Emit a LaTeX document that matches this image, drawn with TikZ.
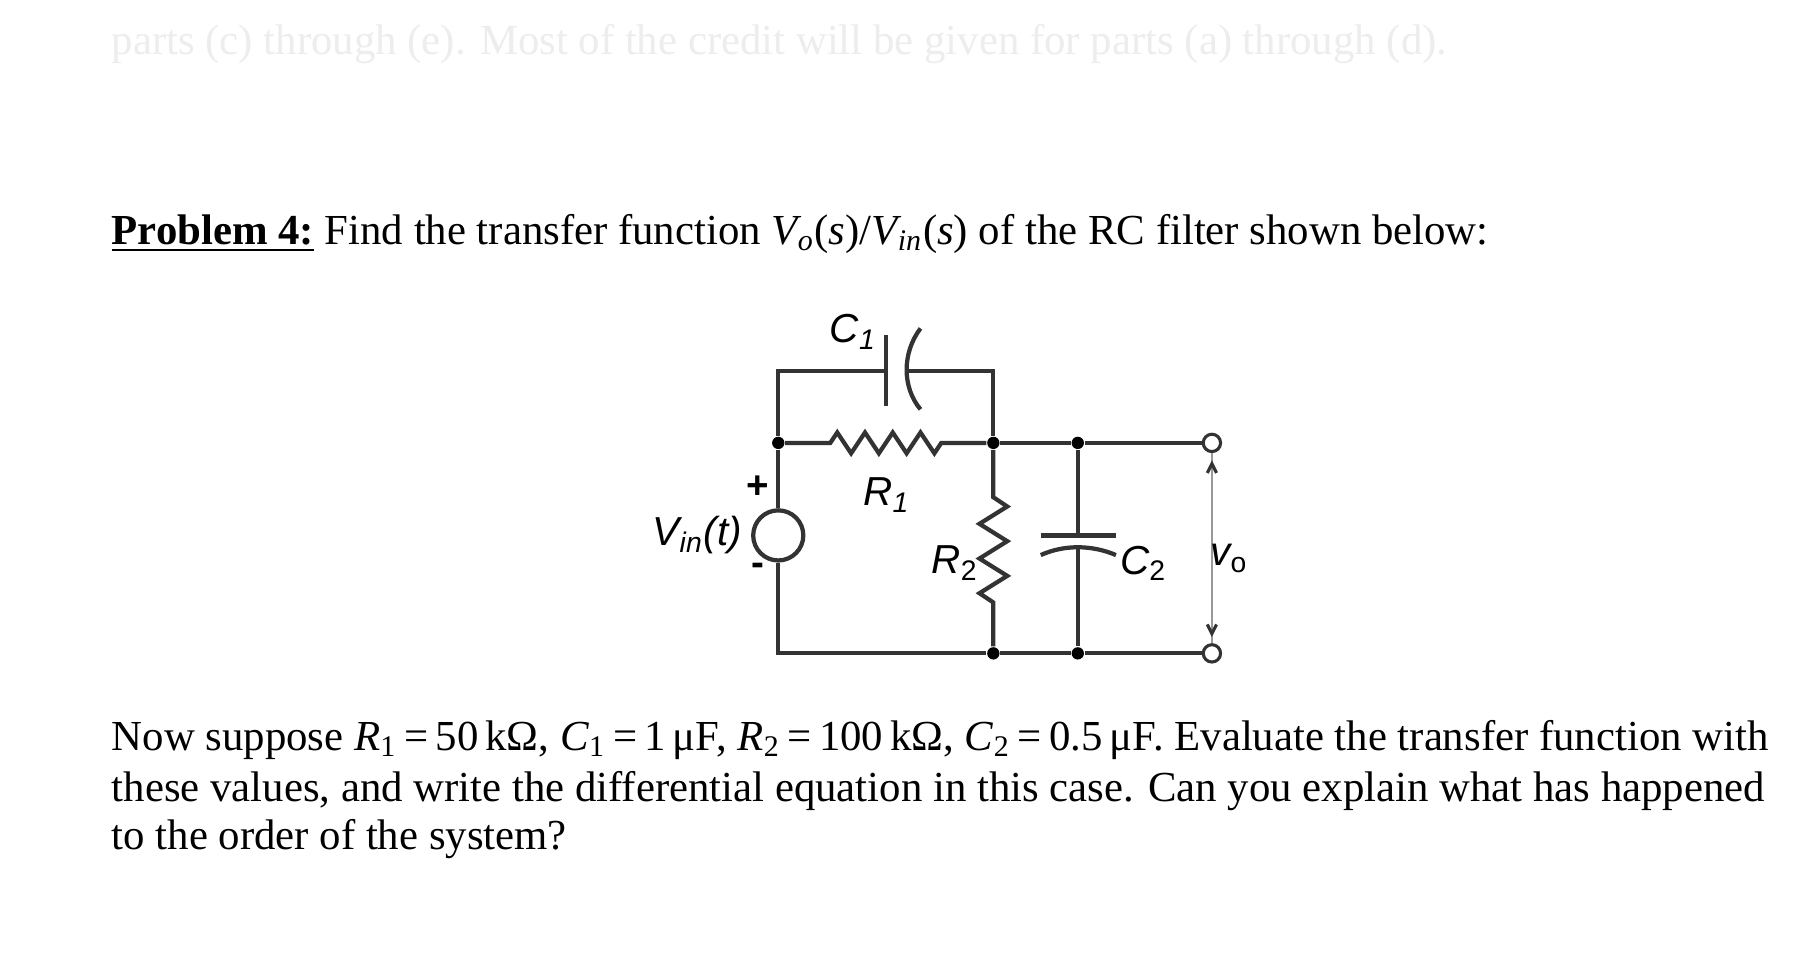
\documentclass[tikz,border=0pt]{standalone}
\usepackage{fontspec}
\setmainfont{Liberation Serif}
\setsansfont{Liberation Sans}
\usetikzlibrary{arrows.meta}
\begin{document}
\begin{tikzpicture}[x=0.3pt,y=-0.3pt,
  wire/.style={line width=1.1pt,black!80},
  dotn/.style={circle,fill=black,inner sep=0pt,minimum size=3.2pt},
  term/.style={circle,draw=black!80,line width=0.8pt,fill=white,inner sep=0pt,minimum size=4.5pt},
  lab/.style={font=\sffamily\itshape\fontsize{10.5}{12}\selectfont,inner sep=0pt},
  body/.style={font=\fontsize{11.1}{13}\selectfont,anchor=west,inner sep=0pt}]
\useasboundingbox[fill=white] (0,0) rectangle (1560,847);
% faint top line
\node[body,text=black!7] (faint) at (96,38) {parts (c) through (e). Most of the credit will be given for parts (a) through (d).};
\node[body] (title) at (96,202) {\textbf{\underline{Problem 4:}} Find the transfer function \textit{V\textsubscript{o}}(\textit{s})/\textit{V\textsubscript{in}}(\textit{s}) of the RC filter shown below:};
% coordinates
\coordinate (tl) at (673,321); \coordinate (tr) at (859,321);
\coordinate (c1a) at (766,321); \coordinate (c1b) at (786,321);
\node[dotn] (n1) at (673,383) {};
\node[dotn] (n2) at (859,383) {};
\node[dotn] (n3) at (932,383) {};
\node[dotn] (n4) at (859,565) {};
\node[dotn] (n5) at (932,565) {};
\coordinate (bl) at (673,565);
\node[circle,draw=black!80,line width=1.1pt,minimum width=13pt,inner sep=0pt] (src) at (673,463) {};
% loops
\draw[wire] (n1) -- (src.north);
\draw[wire] (src.south) -- (bl) -- (n4) -- (n5) -- (1048,565);
\draw[wire] (n1) -- (tl) -- (c1a);
\draw[wire] (c1b) -- (tr) -- (n2);
\draw[wire] (766,290) -- (766,351);
\draw[wire] (796,284) .. controls (780,305) and (780,335) .. (796,354);
% R1
\draw[wire] (n1) -- (718,383) -- (724,374) -- (736,392) -- (748,374) -- (760,392) -- (772,374) -- (784,392) -- (796,374) -- (808,392) -- (814,383) -- (n2);
% R2
\draw[wire] (n2) -- (859,430) -- (871,438) -- (847,453) -- (871,468) -- (847,483) -- (871,498) -- (847,513) -- (859,521) -- (n4);
% C2
\draw[wire] (n3) -- (932,463);
\draw[wire] (900,463) -- (965,463);
\draw[wire] (900,480) .. controls (920,471) and (944,471) .. (965,480);
\draw[wire] (932,475) -- (n5);
\draw[wire] (n2) -- (n3) -- (1048,383);
\node[term] (o1) at (1048,383) {};
\node[term] (o2) at (1048,565) {};
% vo arrows
\draw[black!40,line width=0.3pt] (o1) -- (o2);
\draw[black!80,line width=0.8pt] (1044,409) -- (1048,401) -- (1052,409);
\draw[black!80,line width=0.8pt] (1044,540) -- (1048,548) -- (1052,540);
% labels
\node[lab] (lc1) at (738,287) {C\textsubscript{\itshape 1}};
\node[lab] (lr1) at (767,428) {R\textsubscript{\itshape 1}};
\node[lab] (lvin) at (603,463) {V\textsubscript{\itshape in}(t)};
\node[lab,font=\sffamily\bfseries\fontsize{10}{12}\selectfont] (lp) at (655,421) {+};
\node[lab,font=\sffamily\bfseries\fontsize{10}{12}\selectfont] (lm) at (655,492) {-};
\node[lab] (lr2) at (826,487) {R\textsubscript{\upshape 2}};
\node[lab] (lc2) at (989,487) {C\textsubscript{\upshape 2}};
\node[lab] (lvo) at (1063,483) {v\textsubscript{\upshape o}};
% body
\node[body] (b1) at (96,640) {Now suppose \textit{R}\textsubscript{1}\,=\,50\,kΩ, \textit{C}\textsubscript{1}\,=\,1\,μF, \textit{R}\textsubscript{2}\,=\,100\,kΩ, \textit{C}\textsubscript{2}\,=\,0.5\,μF. Evaluate the transfer function with};
\node[body] (b2) at (96,684) {these values, and write the differential equation in this case. Can you explain what has happened};
\node[body] (b3) at (96,726) {to the order of the system?};
\end{tikzpicture}
\end{document}
